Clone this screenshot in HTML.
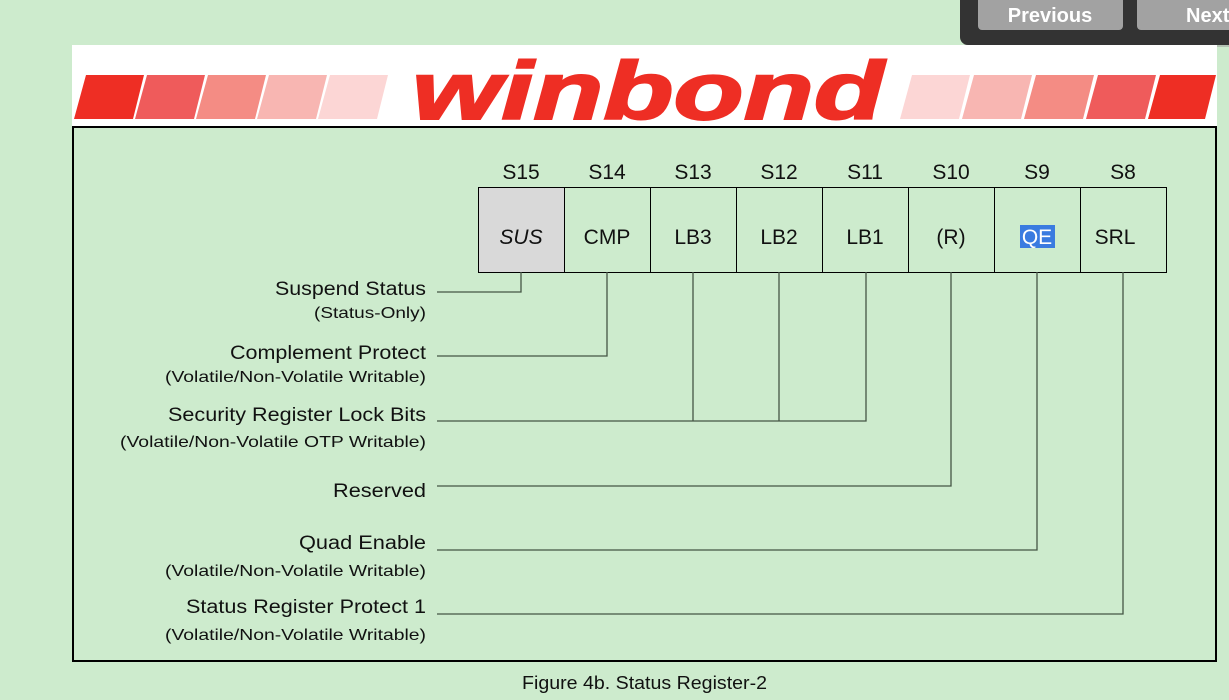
<!DOCTYPE html>
<html><head><meta charset="utf-8"><style>
html,body{margin:0;padding:0;background:#cdebcd;width:1229px;height:700px;overflow:hidden}
svg{display:block}
</style></head><body>
<svg width="1229" height="700" xmlns="http://www.w3.org/2000/svg" font-family="Liberation Sans, Arial, sans-serif">
<rect width="1229" height="700" fill="#cdebcd"/>
<!-- nav -->
<rect x="962" y="-10" width="290" height="57" rx="8" fill="#999" opacity="0.5"/>
<rect x="960" y="-10" width="290" height="55" rx="8" fill="#333"/>
<rect x="978" y="-5" width="145" height="35" rx="4" fill="#a2a2a2"/>
<rect x="1137" y="-5" width="120" height="35" rx="4" fill="#a2a2a2"/>
<text x="1050" y="22" font-size="20" fill="#fff" text-anchor="middle" font-weight="bold">Previous</text>
<text x="1186" y="22" font-size="20" fill="#fff" font-weight="bold">Next</text>
<!-- banner -->
<rect x="72" y="45" width="1145" height="81" fill="#fff"/>
<g>
<polygon points="74,119 86,75 144,75 133,119" fill="#ee2e24"/>
<polygon points="135,119 147,75 205,75 194,119" fill="#ef5b5b"/>
<polygon points="196,119 208,75 266,75 255,119" fill="#f48c84"/>
<polygon points="257,119 269,75 327,75 316,119" fill="#f8b6b2"/>
<polygon points="318,119 330,75 388,75 377,119" fill="#fcd6d5"/>
<polygon points="900,119 912,75 970,75 959,119" fill="#fcd6d5"/>
<polygon points="962,119 974,75 1032,75 1021,119" fill="#f8b6b2"/>
<polygon points="1024,119 1036,75 1094,75 1083,119" fill="#f48c84"/>
<polygon points="1086,119 1098,75 1156,75 1145,119" fill="#ef5b5b"/>
<polygon points="1148,119 1160,75 1216,75 1205,119" fill="#ee2e24"/>
</g>
<text x="412" y="119" font-size="82" font-weight="bold" font-style="italic" fill="#ee2e24" stroke="#ee2e24" stroke-width="2" textLength="472" lengthAdjust="spacingAndGlyphs">winbond</text>
<!-- box -->
<rect x="73" y="127" width="1143" height="534" fill="none" stroke="#000" stroke-width="2"/>
<!-- register -->
<rect x="478" y="187" width="86" height="85" fill="#d9d9d9"/>
<g stroke="#000" stroke-width="1" fill="none">
<rect x="478.5" y="187.5" width="688" height="85"/>
<line x1="564.5" y1="187" x2="564.5" y2="272"/><line x1="650.5" y1="187" x2="650.5" y2="272"/>
<line x1="736.5" y1="187" x2="736.5" y2="272"/><line x1="822.5" y1="187" x2="822.5" y2="272"/>
<line x1="908.5" y1="187" x2="908.5" y2="272"/><line x1="994.5" y1="187" x2="994.5" y2="272"/>
<line x1="1080.5" y1="187" x2="1080.5" y2="272"/>
</g>
<g font-size="21" text-anchor="middle" fill="#111">
<text x="521" y="179">S15</text><text x="607" y="179">S14</text><text x="693" y="179">S13</text><text x="779" y="179">S12</text>
<text x="865" y="179">S11</text><text x="951" y="179">S10</text><text x="1037" y="179">S9</text><text x="1123" y="179">S8</text>
<text x="521" y="244" font-style="italic">SUS</text><text x="607" y="244">CMP</text><text x="693" y="244">LB3</text><text x="779" y="244">LB2</text>
<text x="865" y="244">LB1</text><text x="951" y="244">(R)</text><text x="1115" y="244">SRL</text>
</g>
<rect x="1020" y="225" width="35" height="23" fill="#3a7be0"/>
<text x="1037" y="244" font-size="21" text-anchor="middle" fill="#fff">QE</text>
<!-- connectors -->
<g stroke="#445544" stroke-width="1.3" fill="none">
<polyline points="437,292 521,292 521,272"/>
<polyline points="437,356 607,356 607,272"/>
<polyline points="437,421 866,421 866,272"/>
<line x1="693" y1="272" x2="693" y2="421"/><line x1="779" y1="272" x2="779" y2="421"/>
<polyline points="437,486 951,486 951,272"/>
<polyline points="437,550 1037,550 1037,272"/>
<polyline points="437,614 1123,614 1123,272"/>
</g>
<g fill="#111" lengthAdjust="spacingAndGlyphs">
<text x="275" y="295" font-size="19" textLength="151" lengthAdjust="spacingAndGlyphs">Suspend Status</text>
<text x="314" y="318" font-size="16" textLength="112" lengthAdjust="spacingAndGlyphs">(Status-Only)</text>
<text x="230" y="359" font-size="19" textLength="196" lengthAdjust="spacingAndGlyphs">Complement Protect</text>
<text x="165" y="382" font-size="16" textLength="261" lengthAdjust="spacingAndGlyphs">(Volatile/Non-Volatile Writable)</text>
<text x="168" y="421" font-size="19" textLength="258" lengthAdjust="spacingAndGlyphs">Security Register Lock Bits</text>
<text x="120" y="447" font-size="16" textLength="306" lengthAdjust="spacingAndGlyphs">(Volatile/Non-Volatile OTP Writable)</text>
<text x="333" y="497" font-size="19" textLength="93" lengthAdjust="spacingAndGlyphs">Reserved</text>
<text x="299" y="549" font-size="19" textLength="127" lengthAdjust="spacingAndGlyphs">Quad Enable</text>
<text x="165" y="576" font-size="16" textLength="261" lengthAdjust="spacingAndGlyphs">(Volatile/Non-Volatile Writable)</text>
<text x="186" y="613" font-size="19" textLength="240" lengthAdjust="spacingAndGlyphs">Status Register Protect 1</text>
<text x="165" y="640" font-size="16" textLength="261" lengthAdjust="spacingAndGlyphs">(Volatile/Non-Volatile Writable)</text>
</g>
<text x="522" y="689" font-size="18" fill="#111" textLength="245" lengthAdjust="spacingAndGlyphs">Figure 4b. Status Register-2</text>
</svg>
</body></html>
